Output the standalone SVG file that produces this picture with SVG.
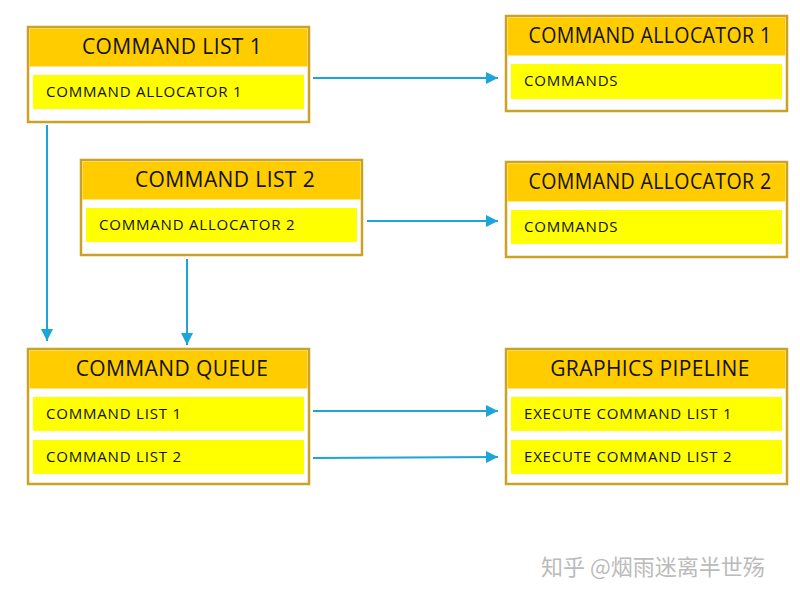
<svg xmlns="http://www.w3.org/2000/svg" width="800" height="600" viewBox="0 0 800 600">
<style>
.box{fill:#fff;stroke:#C9A227;stroke-width:2.5}
.hd{fill:#FFCC00}
.bar{fill:#FFFF00}
.ht{font-family:"Open Sans","Liberation Sans",sans-serif;font-size:21px;letter-spacing:0.4px;fill:#111;text-anchor:middle}
.bt{font-family:"Open Sans","Liberation Sans",sans-serif;font-size:15px;letter-spacing:0.8px;fill:#111}
.c{stroke:#1BA5D8;stroke-width:2;fill:none;marker-end:url(#a)}
</style>
<defs><marker id="a" viewBox="0 0 10 10" refX="10" refY="5" markerWidth="10" markerHeight="6" markerUnits="strokeWidth" orient="auto"><path d="M0 0L10 5L0 10z" fill="#1BA5D8"/></marker></defs>
<rect width="800" height="600" fill="#fff"/>
<g id="cl1"><rect class="box" x="28" y="27" width="281" height="95"/><rect class="hd" x="29.5" y="28.5" width="278" height="38"/><text class="ht" x="172" y="54">COMMAND LIST 1</text><rect class="bar" x="33" y="75" width="271" height="34"/><text class="bt" x="46" y="97">COMMAND ALLOCATOR 1</text></g>
<g id="ca1"><rect class="box" x="506" y="16" width="281" height="95"/><rect class="hd" x="507.5" y="17.5" width="278" height="38"/><text class="ht" x="650" y="43" textLength="243" lengthAdjust="spacingAndGlyphs">COMMAND ALLOCATOR 1</text><rect class="bar" x="511" y="64" width="271" height="35"/><text class="bt" x="524" y="86">COMMANDS</text></g>
<g id="cl2"><rect class="box" x="81" y="160" width="281" height="95"/><rect class="hd" x="82.5" y="161.5" width="278" height="38"/><text class="ht" x="225" y="187">COMMAND LIST 2</text><rect class="bar" x="86" y="208" width="271" height="34"/><text class="bt" x="99" y="230">COMMAND ALLOCATOR 2</text></g>
<g id="ca2"><rect class="box" x="506" y="162" width="281" height="95"/><rect class="hd" x="507.5" y="163.5" width="278" height="38"/><text class="ht" x="650" y="189" textLength="243" lengthAdjust="spacingAndGlyphs">COMMAND ALLOCATOR 2</text><rect class="bar" x="511" y="210" width="271" height="34"/><text class="bt" x="524" y="232">COMMANDS</text></g>
<g id="cq"><rect class="box" x="28" y="349" width="281" height="135"/><rect class="hd" x="29.5" y="350.5" width="278" height="38"/><text class="ht" x="172" y="376">COMMAND QUEUE</text><rect class="bar" x="33" y="397" width="271" height="34"/><text class="bt" x="46" y="419">COMMAND LIST 1</text><rect class="bar" x="33" y="440" width="271" height="34"/><text class="bt" x="46" y="462">COMMAND LIST 2</text></g>
<g id="gp"><rect class="box" x="506" y="349" width="281" height="135"/><rect class="hd" x="507.5" y="350.5" width="278" height="38"/><text class="ht" x="650" y="376">GRAPHICS PIPELINE</text><rect class="bar" x="511" y="397" width="271" height="34"/><text class="bt" x="524" y="419">EXECUTE COMMAND LIST 1</text><rect class="bar" x="511" y="440" width="271" height="34"/><text class="bt" x="524" y="462">EXECUTE COMMAND LIST 2</text></g>
<g id="connectors">
<path class="c" d="M313 78H498"/>
<path class="c" d="M367 221H498"/>
<path class="c" d="M313 411H498"/>
<path class="c" d="M313 458L498 457"/>
<path class="c" d="M47 125V341"/>
<path class="c" d="M187 259V345"/>
</g>
<text x="541" y="575" font-family="'Noto Sans CJK SC',sans-serif" font-size="22" fill="#bbb">知乎 @烟雨迷离半世殇</text>
</svg>
